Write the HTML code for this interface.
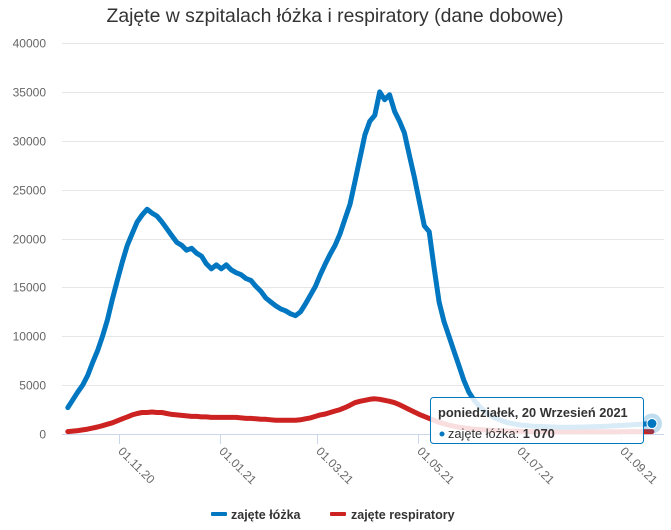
<!DOCTYPE html>
<html><head><meta charset="utf-8"><style>
body{margin:0;background:#fff;font-family:"Liberation Sans",sans-serif;}
svg{display:block}
</style></head><body>
<svg id="chart" width="671" height="530">
<text x="335" y="22" text-anchor="middle" font-size="19.4" fill="#333">Zajęte w szpitalach łóżka i respiratory (dane dobowe)</text>
<g id="grid"></g><g id="xaxis"></g><g id="series"></g>
<g>
<g><rect x="211" y="512" width="16" height="4" rx="1" fill="#0077c0"/><text x="231" y="519" font-size="12.5" font-weight="bold" fill="#333">zajęte łóżka</text></g>
<g><rect x="330" y="512" width="16" height="4" rx="1" fill="#cc2222"/><text x="351" y="519" font-size="12.5" font-weight="bold" fill="#333">zajęte respiratory</text></g>
</g>
<g id="tt">
<rect x="430.5" y="397.5" width="213" height="46" rx="3" fill="#fff" fill-opacity="0.85" stroke="#0077c0"/>
<text x="438" y="417" font-size="12.8" font-weight="bold" fill="#333">poniedziałek, 20 Wrzesień 2021</text>
<circle cx="442" cy="434" r="2.5" fill="#0077c0"/>
<text x="448" y="438" font-size="12.8" fill="#333">zajęte łóżka: <tspan font-weight="bold">1 070</tspan></text>
</g>
</svg>
<script>
const yTicks=[0,5000,10000,15000,20000,25000,30000,35000,40000];
const xTickLabels=["01.11.20","01.01.21","01.03.21","01.05.21","01.07.21","01.09.21"];
const xTickDates=["2020-11-01","2021-01-01","2021-03-01","2021-05-01","2021-07-01","2021-09-01"];
const startDate="2020-10-01";
const stepDays=3;
const beds=[2700,3500,4300,5000,6000,7300,8500,10000,11700,13800,15700,17600,19300,20500,21700,22400,23000,22600,22300,21700,21000,20300,19600,19300,18800,19000,18500,18200,17400,16900,17300,16900,17300,16800,16500,16300,15900,15700,15100,14600,13900,13500,13100,12800,12600,12300,12100,12500,13300,14200,15100,16300,17400,18400,19300,20500,22000,23500,25800,28200,30600,32000,32600,35000,34200,34700,33000,32000,30800,28500,26300,23800,21300,20700,17000,13500,11500,10000,8500,7000,5500,4300,3500,2900,2400,2000,1700,1500,1300,1150,1050,950,900,850,800,780,760,740,720,700,700,700,700,710,720,730,750,760,780,800,830,860,880,910,940,970,1000,1040,1070];
const resp=[250,300,350,420,500,600,720,850,1000,1150,1350,1550,1750,1950,2100,2200,2200,2250,2200,2200,2100,2000,1950,1900,1850,1800,1800,1750,1750,1700,1700,1700,1700,1700,1700,1650,1600,1600,1550,1500,1500,1450,1400,1400,1400,1400,1400,1450,1550,1650,1800,1950,2050,2200,2350,2500,2700,2950,3200,3350,3450,3550,3600,3550,3450,3350,3200,3000,2750,2500,2250,2000,1800,1600,1400,1200,1050,900,800,700,620,560,500,460,420,390,360,340,320,300,290,280,270,260,250,250,240,240,230,230,230,230,230,230,230,230,230,240,240,240,240,240,250,250,250,250,250,250,250];
const NS="http://www.w3.org/2000/svg";
const X0=62,X1=664,Y0=434,Y1=43;
const day0=Date.parse("2020-11-01");
function xScale(d){return 119+(Date.parse(d)-day0)/864e5*1.65;}
function xIdx(i){const d=new Date(Date.parse(startDate)+i*stepDays*864e5);return xScale(d.toISOString().slice(0,10));}
function yScale(v){return Y0-(v/40000)*(Y0-Y1);}
function mk(tag,attrs,parent){const e=document.createElementNS(NS,tag);for(const k in attrs)e.setAttribute(k,attrs[k]);parent.appendChild(e);return e;}
const grid=document.getElementById('grid');
yTicks.forEach(v=>{
  const y=Math.round(yScale(v))+0.5;
  if(v>0){const l=mk('line',{x1:X0,x2:X1,y1:y,y2:y,stroke:'#e6e6e6'},grid);
  
  }
  const t=mk('text',{x:46,y:y+4,'text-anchor':'end','font-size':12,fill:'#666'},grid);
  t.textContent=String(v);
  
  
});
const xa=document.getElementById('xaxis');
const ax=mk('line',{x1:X0,x2:X1,y1:434.5,y2:434.5,stroke:'#ccd6eb'},xa);


xTickDates.forEach((d,i)=>{
  const x=Math.round(xScale(d))+0.5;
  mk('line',{x1:x,x2:x,y1:434,y2:444,stroke:'#ccd6eb'},xa);
  const t=mk('text',{x:x-2,y:452,'font-size':12,fill:'#666',transform:`rotate(45 ${x-2} 452)`},xa);
  t.textContent=xTickLabels[i];
  
  
});
const sg=document.getElementById('series');
function line(data,color,name){
  const d=data.map((v,i)=>(i?'L':'M')+xIdx(i).toFixed(1)+','+yScale(v).toFixed(1)).join('');
  const p=mk('path',{d:d,fill:'none',stroke:color,'stroke-width':5,'stroke-linejoin':'round','stroke-linecap':'round'},sg);
  
  
}
line(resp,'#cc2222','respirators-line');
line(beds,'#0077c0','beds-line');
const li=beds.length-1;
mk('circle',{cx:xIdx(li),cy:yScale(beds[li]),r:10,fill:'#0077c0','fill-opacity':0.25},sg);
const m=mk('circle',{cx:xIdx(li),cy:yScale(beds[li]),r:5,fill:'#0077c0',stroke:'#fff','stroke-width':1},sg);


</script>
</body></html>
